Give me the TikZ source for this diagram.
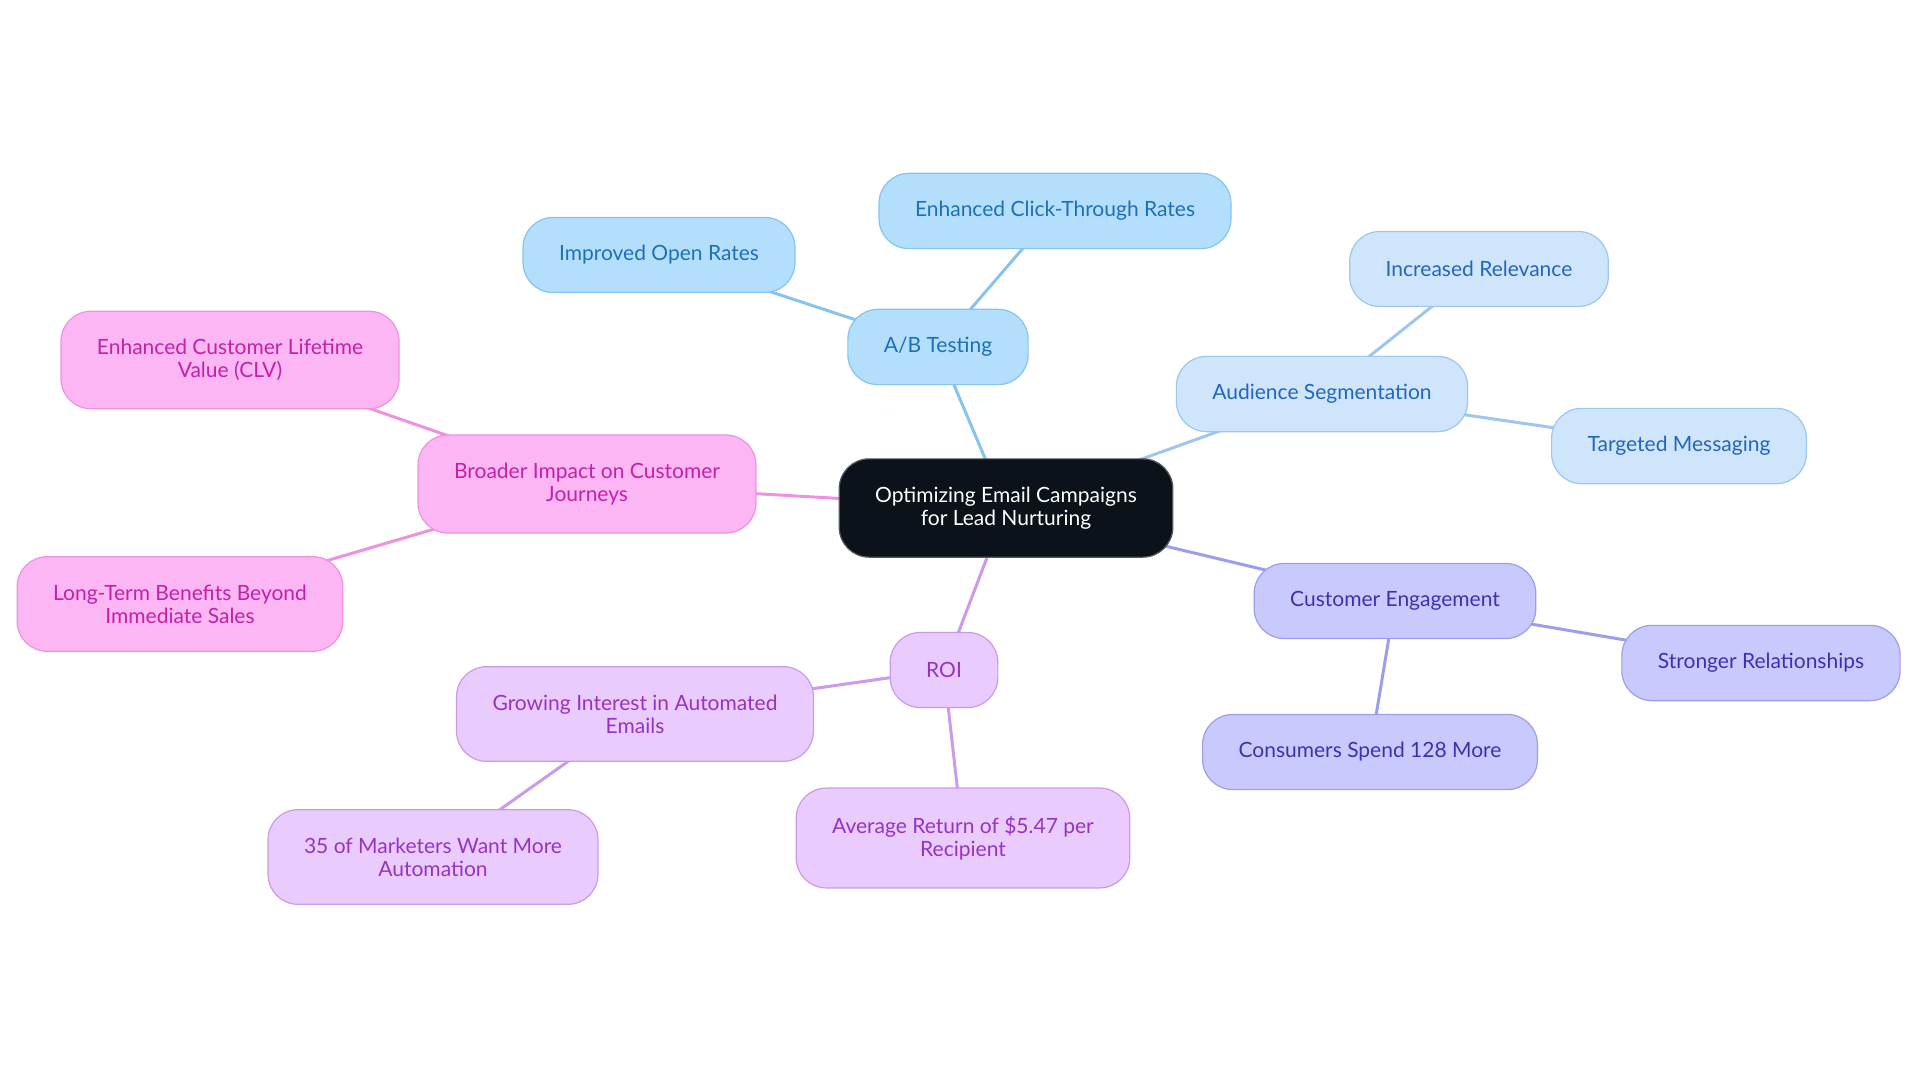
\documentclass[tikz,border=0pt]{standalone}
\usepackage{fontspec}
\setmainfont{Lato}
\usepackage{tikz}
\usetikzlibrary{backgrounds}

\definecolor{hubfill}{HTML}{0B121A}
\definecolor{abfill}{HTML}{B3DFFD}
\definecolor{abdraw}{HTML}{86C3EE}
\definecolor{abtext}{HTML}{1F6FB5}
\definecolor{audfill}{HTML}{CFE5FC}
\definecolor{auddraw}{HTML}{9EC6EE}
\definecolor{audtext}{HTML}{2466B8}
\definecolor{engfill}{HTML}{C8CAFD}
\definecolor{engdraw}{HTML}{9C9DEB}
\definecolor{engtext}{HTML}{3A33B0}
\definecolor{roifill}{HTML}{E9CBFD}
\definecolor{roidraw}{HTML}{C99BEA}
\definecolor{roitext}{HTML}{9434C4}
\definecolor{brdfill}{HTML}{FCB6F3}
\definecolor{brddraw}{HTML}{EE92E0}
\definecolor{brdtext}{HTML}{C221A8}

\begin{document}
\begin{tikzpicture}[x=1pt,y=-1pt,
			every node/.style={rounded corners=30pt,align=center,inner xsep=36pt,inner ysep=28pt,
				minimum height=75pt,font=\fontsize{21}{23}\selectfont,line width=1.2pt},
			hub/.style={fill=hubfill,draw=hubfill!70!white,text=white},
			abbox/.style={fill=abfill,draw=abdraw,text=abtext},
			audbox/.style={fill=audfill,draw=auddraw,text=audtext},
			engbox/.style={fill=engfill,draw=engdraw,text=engtext},
			roibox/.style={fill=roifill,draw=roidraw,text=roitext},
			brdbox/.style={fill=brdfill,draw=brddraw,text=brdtext},
			link/.style={line width=3pt}]
			\useasboundingbox (0,0) rectangle (1920,1083);
			
			\node[hub] (hub) at (1006,508) {Optimizing Email Campaigns\\for Lead Nurturing};
			
			% A/B testing
			\node[abbox] (ab) at (938,347) {A/B Testing};
			\node[abbox] (click) at (1055,211) {Enhanced Click-Through Rates};
			\node[abbox] (open) at (659,255) {Improved Open Rates};
			
			% segmentation
			\node[audbox] (aud) at (1322,394) {Audience Segmentation};
			\node[audbox] (relev) at (1479,269) {Increased Relevance};
			\node[audbox] (msg) at (1679,446) {Targeted Messaging};
			
			% engagement
			\node[engbox] (eng) at (1395,601) {Customer Engagement};
			\node[engbox] (strong) at (1761,663) {Stronger Relationships};
			\node[engbox] (spend) at (1370,752) {Consumers Spend 128 More};
			
			% roi
			\node[roibox] (roi) at (944,670) {ROI};
			\node[roibox] (grow) at (635,714) {Growing Interest in Automated\\Emails};
			\node[roibox] (mkt) at (433,857) {35 of Marketers Want More\\Automation};
			\node[roibox] (avg) at (963,838) {Average Return of \$5.47 per\\Recipient};
			
			% broader impact
			\node[brdbox] (brd) at (587,484) {Broader Impact on Customer\\Journeys};
			\node[brdbox] (clv) at (230,360) {Enhanced Customer Lifetime\\Value (CLV)};
			\node[brdbox] (ltb) at (180,604) {Long-Term Benefits Beyond\\Immediate Sales};
			
			\begin{pgfonlayer}{background}
				\draw[link,abdraw] (hub.center) -- (ab.center);
				\draw[link,abdraw] (ab.center) -- (click.center);
				\draw[link,abdraw] (ab.center) -- (open.center);
				\draw[link,auddraw] (hub.center) -- (aud.center);
				\draw[link,auddraw] (aud.center) -- (relev.center);
				\draw[link,auddraw] (aud.center) -- (msg.center);
				\draw[link,engdraw] (hub.center) -- (eng.center);
				\draw[link,engdraw] (eng.center) -- (strong.center);
				\draw[link,engdraw] (eng.center) -- (spend.center);
				\draw[link,roidraw] (hub.center) -- (roi.center);
				\draw[link,roidraw] (roi.center) -- (grow.center);
				\draw[link,roidraw] (grow.center) -- (mkt.center);
				\draw[link,roidraw] (roi.center) -- (avg.center);
				\draw[link,brddraw] (hub.center) -- (brd.center);
				\draw[link,brddraw] (brd.center) -- (clv.center);
				\draw[link,brddraw] (brd.center) -- (ltb.center);
			\end{pgfonlayer}
		\end{tikzpicture}
\end{document}
